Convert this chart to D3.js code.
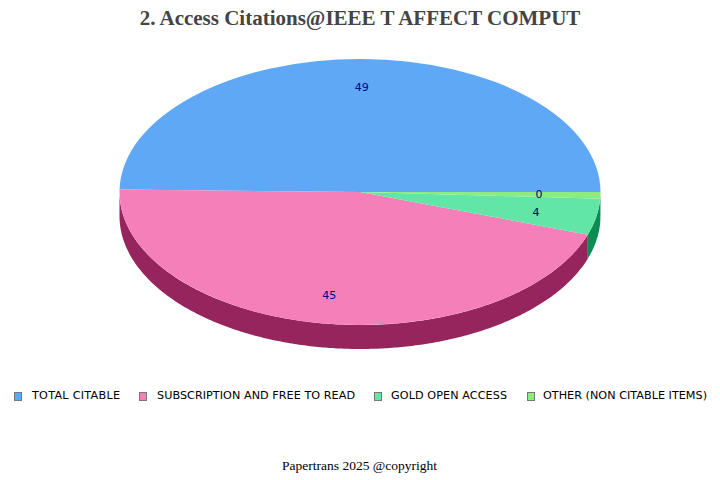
<!DOCTYPE html>
<html>
<head>
<meta charset="utf-8">
<script src="https://cdn.jsdelivr.net/npm/d3@7"></script>
<style>
	html, body { margin: 0; padding: 0; background: #fff; }
	svg { display: block; }
</style>
</head>
<body>
<div id="chart"></div>
<script>
	// Data. Labels are the shares rounded down.
	const categories = ["TOTAL CITABLE", "SUBSCRIPTION AND FREE TO READ", "GOLD OPEN ACCESS", "OTHER (NON CITABLE ITEMS)"];
	const shares = [49.7, 45.1, 4.4, 0.8];
	const topColors = ["#5fa8f5", "#f47fb9", "#62e6a8", "#8cec80"];
	const wallColors = ["#2a6fb8", "#96245d", "#0a8c52", "#0a8c52"];

	const width = 720, height = 480;
	const cx = 360, cy = 192, rx = 240.5, ry = 133, depth = 24;

	// Legend layout: swatch left edge, text left edge, text width
	const legendSwatchX = [14, 139, 374, 527],
				legendTextX = [32, 157, 391, 543],
				legendTextW = [88, 198, 116, 164];

	const svg = d3.select("#chart")
		.append("svg")
			.attr("width", width)
			.attr("height", height);

	// Title
	svg.append("text")
		.attr("x", 360)
		.attr("y", 25)
		.style("text-anchor", "middle")
		.style("font-family", "'Liberation Serif'")
		.style("font-weight", "bold")
		.style("font-size", "21px")
		.style("fill", "#444")
		.text("2. Access Citations@IEEE T AFFECT COMPUT");

	// Slices run counter-clockwise from 3 o'clock
	const pie = d3.pie()
		.sort(null)
		.startAngle(Math.PI / 2)
		.endAngle(Math.PI / 2 - 2 * Math.PI);

	const slices = pie(shares);

	const arc = d3.arc()
		.innerRadius(0)
		.outerRadius(rx);

	// Front walls: only the part of a slice on the lower half of the ellipse
	const wallLine = d3.line()
		.x(d => d[0])
		.y(d => d[1]);

	const frontStart = Math.PI / 2, frontEnd = 3 * Math.PI / 2;
	function normal(a) {
		let out = a;
		while (out < 0) out += 2 * Math.PI;
		return out;
	}

	const walls = svg.append("g");
	slices.forEach((s, i) => {
		const a0 = normal(s.endAngle), a1 = a0 + (s.startAngle - s.endAngle);
		const from = Math.max(a0, frontStart), to = Math.min(a1, frontEnd);
		if (to <= from) return;
		const angles = d3.range(from, to, 0.01).concat([to]);
		const top = angles.map(a => [cx + rx * Math.sin(a), cy - ry * Math.cos(a)]);
		const bottom = top.map(p => [p[0], p[1] + depth]).reverse();
		walls.append("path")
			.attr("d", wallLine(top.concat(bottom)) + "Z")
			.attr("fill", wallColors[i]);
	});

	// Top face
	svg.append("g")
		.attr("transform", `translate(${cx}, ${cy}) scale(1, ${ry / rx})`)
		.selectAll("path")
		.data(slices)
		.enter()
		.append("path")
			.attr("d", arc)
			.attr("fill", (d, i) => topColors[i]);

	// Value labels
	svg.append("g")
		.selectAll("text")
		.data(slices)
		.enter()
		.append("text")
			.attr("x", d => cx + 0.745 * rx * Math.sin((d.startAngle + d.endAngle) / 2))
			.attr("y", d => cy - 0.79 * ry * Math.cos((d.startAngle + d.endAngle) / 2))
			.attr("dy", "0.35em")
			.style("text-anchor", "middle")
			.style("font-family", "'DejaVu Sans'")
			.style("font-size", "11px")
			.style("fill", "#00008b")
			.text(d => Math.floor(d.data));

	// Legend
	const legend = svg.append("g");
	categories.forEach((name, i) => {
		legend.append("rect")
			.attr("x", legendSwatchX[i] + 0.5)
			.attr("y", 392.5)
			.attr("width", 7)
			.attr("height", 8)
			.attr("fill", topColors[i])
			.attr("stroke", "#777")
			.attr("stroke-width", 1);
		legend.append("text")
			.attr("x", legendTextX[i])
			.attr("y", 399)
			.attr("textLength", legendTextW[i])
			.style("font-family", "'DejaVu Sans'")
			.style("font-size", "11.2px")
			.style("fill", "#000")
			.text(name);
	});

	// Footer
	svg.append("text")
		.attr("x", 359.5)
		.attr("y", 470)
		.style("text-anchor", "middle")
		.style("font-family", "'Liberation Serif'")
		.style("font-size", "13.5px")
		.style("fill", "#000")
		.text("Papertrans 2025 @copyright");
</script>
</body>
</html>
